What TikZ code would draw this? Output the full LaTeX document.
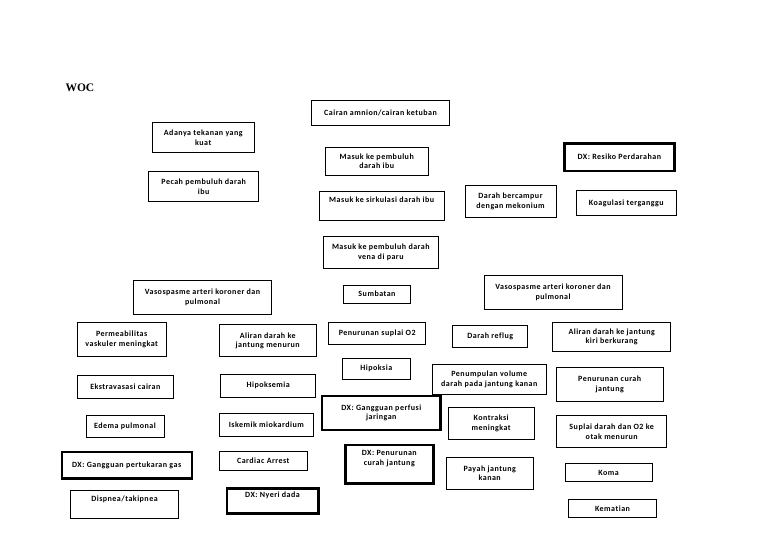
\documentclass[tikz,border=0pt]{standalone}
\usepackage{fontspec}
\setmainfont{Carlito}
\newfontfamily\boxfont[LetterSpace=6,Ligatures=NoCommon]{Carlito}
\newfontfamily\wocfont{Liberation Serif}
\usepackage{tikz}

\begin{document}
\begin{tikzpicture}[x=1pt,y=-1pt,
  box/.style={draw,line width=0.8pt,align=center,inner sep=1pt,
    font=\boxfont\fontsize{8}{9.5}\selectfont\bfseries},
  dxbox/.style={box,line width=2.4pt}]
\useasboundingbox[fill=white] (0,0) rectangle (768,543);
\node[font=\wocfont\fontsize{11.5}{13}\selectfont\bfseries,anchor=west] (woc) at (62,87.5){WOC};
% kolom tengah
\node[box,minimum width=137.6pt,minimum height=25pt] (cairan) at (380.5,113.2){Cairan amnion/cairan ketuban};
\node[box,minimum width=102.7pt,minimum height=28pt] (masukibu) at (376.7,161.3){Masuk ke pembuluh\\darah ibu};
\node[box,minimum width=124.7pt,minimum height=28.3pt] (sirkulasi) at (381.7,205.8){Masuk ke sirkulasi darah ibu\\\strut};
\node[box,minimum width=115pt,minimum height=31.6pt] (vena) at (380.8,252.5){Masuk ke pembuluh darah\\vena di paru};
\node[box,minimum width=67.4pt,minimum height=18.3pt] (sumbatan) at (377,294.2){Sumbatan};
\node[box,minimum width=97pt,minimum height=22pt] (suplai) at (377.2,333){Penurunan suplai O2};
\node[box,minimum width=67.3pt,minimum height=21.3pt] (hipoksia) at (376.3,368.7){Hipoksia};
\node[dxbox,minimum width=118.7pt,minimum height=34pt] (dxperfusi) at (381.3,413){DX: Gangguan perfusi\\jaringan};
\node[dxbox,minimum width=88pt,minimum height=38.3pt] (dxcurah) at (389.3,464.2){DX: Penurunan\\curah jantung\\\strut};
% kolom kiri
\node[box,minimum width=101.3pt,minimum height=30.4pt] (adanya) at (203.3,137.5){Adanya tekanan yang\\kuat};
\node[box,minimum width=110pt,minimum height=29.6pt] (pecah) at (203.7,186.5){Pecah pembuluh darah\\ibu};
\node[box,minimum width=138.4pt,minimum height=33.3pt] (vasokiri) at (202.5,297.3){Vasospasme arteri koroner dan\\pulmonal};
\node[box,minimum width=88.7pt,minimum height=33.3pt] (permeabilitas) at (121.7,339.3){Permeabilitas\\vaskuler meningkat};
\node[box,minimum width=96.7pt,minimum height=32pt] (alirankiri) at (267.7,340.7){Aliran darah ke\\jantung menurun};
\node[box,minimum width=96pt,minimum height=23.3pt] (ekstravasasi) at (125.3,386.7){Ekstravasasi cairan};
\node[box,minimum width=95pt,minimum height=23.3pt] (hipoksemia) at (268.2,385.7){Hipoksemia};
\node[box,minimum width=78pt,minimum height=22.3pt] (edema) at (125,426.2){Edema pulmonal};
\node[box,minimum width=94pt,minimum height=22.7pt] (iskemik) at (266.3,424.7){Iskemik miokardium};
\node[dxbox,minimum width=130pt,minimum height=26.6pt] (dxgas) at (126.7,465){DX: Gangguan pertukaran gas};
\node[box,minimum width=88pt,minimum height=19pt] (cardiac) at (263.3,461.2){Cardiac Arrest};
\node[box,minimum width=107.6pt,minimum height=27.6pt] (dispnea) at (124.5,504.5){Dispnea/takipnea\\\strut};
\node[dxbox,minimum width=91.6pt,minimum height=25pt] (dxnyeri) at (272.5,500.8){DX: Nyeri dada\\\strut};
% kolom kanan
\node[dxbox,minimum width=110pt,minimum height=27.7pt] (dxresiko) at (619.3,157.2){DX: Resiko Perdarahan};
\node[box,minimum width=91pt,minimum height=31.6pt] (bercampur) at (510.5,201.5){Darah bercampur\\dengan mekonium};
\node[box,minimum width=100.7pt,minimum height=25pt] (koagulasi) at (626.3,203.2){Koagulasi terganggu};
\node[box,minimum width=138pt,minimum height=34.7pt] (vasokanan) at (553,292.3){Vasospasme arteri koroner dan\\pulmonal};
\node[box,minimum width=75pt,minimum height=22pt] (reflug) at (490.2,336.7){Darah reflug};
\node[box,minimum width=118pt,minimum height=28.3pt] (alirankanan) at (611.7,336.8){Aliran darah ke jantung\\kiri berkurang};
\node[box,minimum width=113.3pt,minimum height=30.3pt] (penumpulan) at (489.3,379.2){Penumpulan volume\\darah pada jantung kanan};
\node[box,minimum width=107.3pt,minimum height=33.3pt] (curah) at (609.7,384.3){Penurunan curah\\jantung};
\node[box,minimum width=85.7pt,minimum height=31.6pt] (kontraksi) at (491.2,423.5){Kontraksi\\meningkat};
\node[box,minimum width=110pt,minimum height=31.6pt] (suplaiotak) at (611.7,431.5){Suplai darah dan O2 ke\\otak menurun};
\node[box,minimum width=87.3pt,minimum height=31.7pt] (payah) at (489.7,473.2){Payah jantung\\kanan};
\node[box,minimum width=87.3pt,minimum height=18.4pt] (koma) at (608.7,472.5){Koma};
\node[box,minimum width=88.4pt,minimum height=18.4pt] (kematian) at (612.5,508.5){Kematian};
\end{tikzpicture}
\end{document}
